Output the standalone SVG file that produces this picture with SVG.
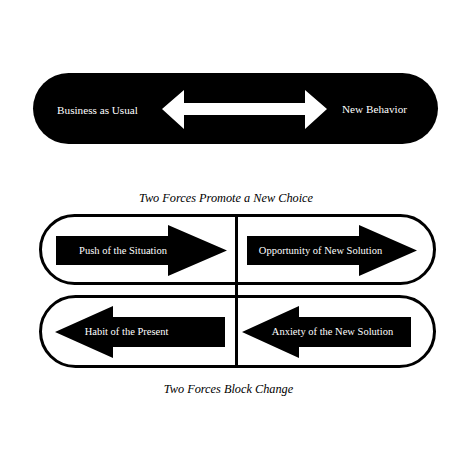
<svg xmlns="http://www.w3.org/2000/svg" width="474" height="474" viewBox="0 0 474 474">
<style>
.lbl{font-family:"Liberation Serif","Times New Roman",serif;fill:#fff;text-anchor:middle}
.ttl{font-family:"Liberation Serif","Times New Roman",serif;font-style:italic;fill:#000;text-anchor:middle;font-size:12.3px}
.pill{fill:none;stroke:#000;stroke-width:3}
.arr{fill:#000}
</style>
<rect width="474" height="474" fill="#fff"/>
<g id="top-pill">
<rect x="33" y="73" width="405" height="71" rx="35.5" fill="#000"/>
<polygon points="162,109 184,90 184,103 305,103 305,90 327,109 305,129 305,115 184,115 184,129" fill="#fff"/>
<text class="lbl" x="97.5" y="114" font-size="11.2">Business as Usual</text>
<text class="lbl" x="374.5" y="113" font-size="11.2">New Behavior</text>
</g>
<text id="title-promote" class="ttl" x="226" y="202">Two Forces Promote a New Choice</text>
<g id="promote-box">
<rect class="pill" x="40.5" y="215.5" width="394" height="68" rx="34"/>
</g>
<g id="block-box">
<rect class="pill" x="40.5" y="296.5" width="394" height="70" rx="35"/>
</g>
<g id="connectors">
<line x1="236.5" y1="214" x2="236.5" y2="368" stroke="#000" stroke-width="3"/>
</g>
<g id="push">
<polygon class="arr" points="56,236 168,236 168,225 227,250.5 168,276 168,265 56,265"/>
<text class="lbl" x="123" y="254" font-size="10.5">Push of the Situation</text>
</g>
<g id="opportunity">
<polygon class="arr" points="247,236 359,236 359,225 417,250.5 359,276 359,265 247,265"/>
<text class="lbl" x="320.5" y="254" font-size="10.5">Opportunity of New Solution</text>
</g>
<g id="habit">
<polygon class="arr" points="55,332 113,306 113,317 225,317 225,347 113,347 113,358"/>
<text class="lbl" x="126.5" y="335" font-size="10.5">Habit of the Present</text>
</g>
<g id="anxiety">
<polygon class="arr" points="242,332 299,306 299,317 411,317 411,347 299,347 299,358"/>
<text class="lbl" x="332.5" y="335" font-size="10.5">Anxiety of the New Solution</text>
</g>
<text id="title-block" class="ttl" x="228.5" y="393">Two Forces Block Change</text>
</svg>
